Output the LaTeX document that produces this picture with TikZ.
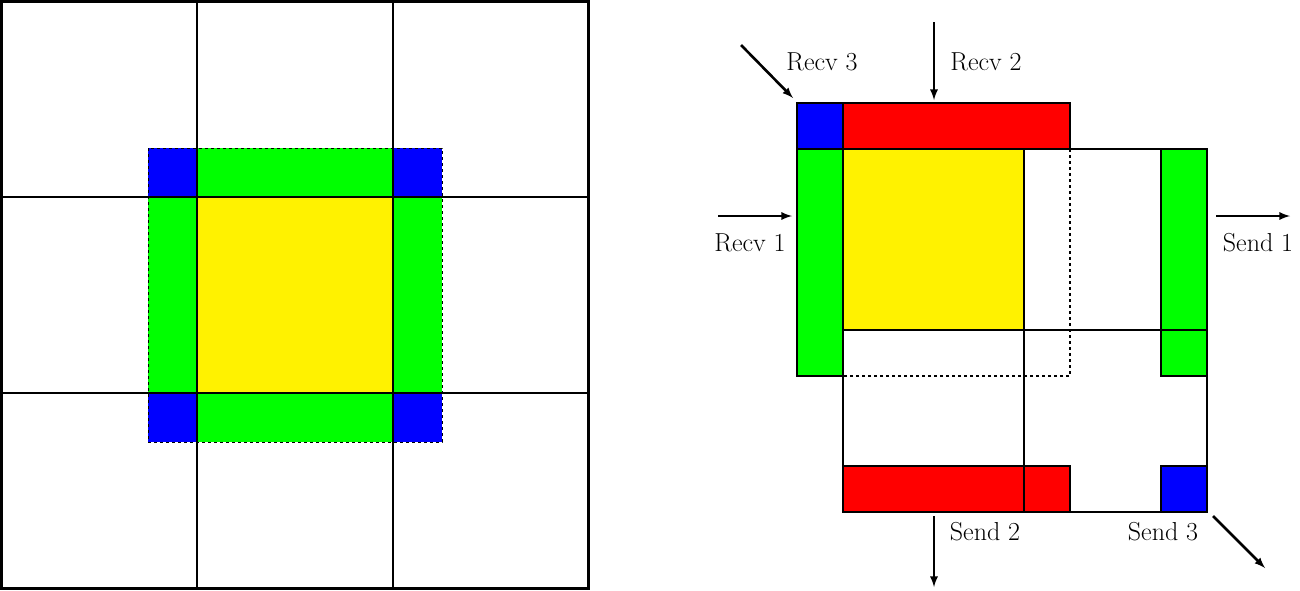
\documentclass[tikz,border=0pt]{standalone}
\begin{document}
\begin{tikzpicture}[x=1pt,y=-1pt,
  lbl/.style={font=\fontsize{26}{30}\selectfont,inner sep=0pt},
  arr/.style={-latex,line width=2.6pt},
  ln/.style={line width=1.8pt}]
\useasboundingbox (0,0) rectangle (1300,590);
\definecolor{gr}{RGB}{0,255,0}
% left panel
\fill[gr] (148,148) rectangle (442,442);
\fill[blue] (148,148) rectangle (197,197);
\fill[blue] (393,148) rectangle (442,197);
\fill[blue] (148,393) rectangle (197,442);
\fill[blue] (393,393) rectangle (442,442);
\fill[yellow] (197,197) rectangle (393,393);
\draw[dashed,line width=0.8pt] (148,148) rectangle (442,442);
\draw[ln] (197,1)--(197,588) (393,1)--(393,588) (1,197)--(589,197) (1,393)--(589,393);
\draw[line width=3pt] (1.5,1.5) rectangle (588.5,588);
% right panel
\fill[red] (843,103) rectangle (1070,149);
\fill[blue] (797,103) rectangle (843,149);
\fill[gr] (797,149) rectangle (843,376);
\fill[yellow] (843,149) rectangle (1024,330);
\fill[gr] (1161,149) rectangle (1207,376);
\fill[red] (843,466) rectangle (1070,512);
\fill[blue] (1161,466) rectangle (1207,512);
\draw[ln] (843,103) rectangle (1070,149) (797,103) rectangle (843,149)
  (797,149) rectangle (843,376) (1161,149) rectangle (1207,376)
  (843,466) rectangle (1070,512) (1161,466) rectangle (1207,512);
\draw[ln] (843,149) rectangle (1207,512);
\draw[ln] (1024,149)--(1024,512) (843,330)--(1207,330);
\draw[ln,dashed] (1070,149)--(1070,376)--(843,376);
% arrows
\coordinate (r2a) at (934,22); \coordinate (r2b) at (934,100);
\coordinate (r3a) at (741,45); \coordinate (r3b) at (793,98);
\coordinate (r1a) at (718,216); \coordinate (r1b) at (792,216);
\coordinate (s1a) at (1216,216); \coordinate (s1b) at (1290,216);
\coordinate (s2a) at (934,516); \coordinate (s2b) at (934,587);
\coordinate (s3a) at (1213,516); \coordinate (s3b) at (1265,568);
\draw[arr] (r2a)--(r2b); \draw[arr] (r3a)--(r3b); \draw[arr] (r1a)--(r1b);
\draw[arr] (s1a)--(s1b); \draw[arr] (s2a)--(s2b); \draw[arr] (s3a)--(s3b);
\node[lbl] (t2) at (986,62) {Recv 2};
\node[lbl] (t3) at (822,62) {Recv 3};
\node[lbl] (t1) at (750,243) {Recv 1};
\node[lbl] (u1) at (1258,243) {Send 1};
\node[lbl] (u2) at (985,532) {Send 2};
\node[lbl] (u3) at (1163,532) {Send 3};
\end{tikzpicture}
\end{document}
